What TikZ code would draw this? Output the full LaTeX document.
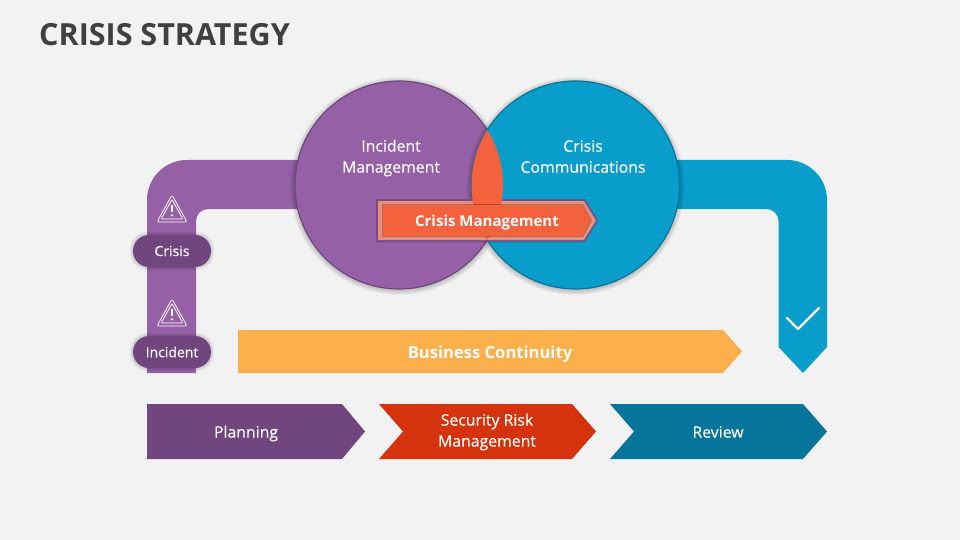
\documentclass[tikz,border=0pt]{standalone}
\usepackage{fontspec}
\setmainfont{Open Sans}
\newfontfamily\medf[FakeBold=0.25]{Open Sans}
\usetikzlibrary{shapes.misc}
\definecolor{bgc}{HTML}{F2F2F2}
\definecolor{purp}{HTML}{9560A5}
\definecolor{dpurp}{HTML}{71467F}
\definecolor{blu}{HTML}{099DCB}
\definecolor{dblu}{HTML}{07759B}
\definecolor{org}{HTML}{F4613D}
\definecolor{salm}{HTML}{E9907D}
\definecolor{ambr}{HTML}{FBB04B}
\definecolor{redd}{HTML}{D5330E}
\definecolor{titc}{HTML}{404040}
\tikzset{
  x=1pt,y=-1pt,
  lbl/.style={text=white,align=center,font=\medf\fontsize{15.8}{21}\selectfont,inner sep=0pt},
  lblb/.style={text=white,align=center,font=\bfseries,inner sep=0pt},
  pill/.style={fill=dpurp,rounded rectangle,minimum width=78pt,minimum height=32pt,inner sep=0pt,text=white,font=\medf\fontsize{14}{16}\selectfont},
  warn/.style={draw=white,line width=.8pt,line join=round,fill=none}
}
\newcommand{\softcircle}[3]{%
  \foreach \d in {5,4,3,2,1}{\fill[black,opacity=.04] (#1,#2+1) circle[radius=104+\d];}%
  \fill[#3] (#1,#2) circle[radius=104];}
\newcommand{\warnsign}[2]{%
  \begin{scope}[shift={(#1,#2)}]
   \draw[warn,rounded corners=2pt] (0,-14) -- (15,13) -- (-15,13) -- cycle;
   \draw[warn,rounded corners=1pt] (0,-9.5) -- (10.8,10) -- (-10.8,10) -- cycle;
   \draw[white,line width=1.3pt] (0,-4.5) -- (0,2.5);
   \fill[white] (0,6.3) circle[radius=1.2];
  \end{scope}}
\begin{document}
\begin{tikzpicture}
\useasboundingbox (0,0) rectangle (960,540);
\fill[bgc] (0,0) rectangle (960,540);
\node[anchor=west,inner sep=0pt,text=titc,font=\fontsize{30.5}{36}\selectfont\bfseries] (title) at (39,35) {CRISIS STRATEGY};
% bands
\fill[purp] (147,373) -- (147,200) .. controls (147,177.9) and (164.9,160) .. (187,160) -- (320,160) -- (320,209) -- (208,209) .. controls (201.4,209) and (196,214.4) .. (196,221) -- (196,373) -- cycle;
\fill[blu] (660,160) -- (787,160) .. controls (809.1,160) and (827,177.9) .. (827,200) -- (827,347) -- (803,373) -- (778.5,347) -- (778.5,221) .. controls (778.5,214.4) and (773.1,209) .. (766.5,209) -- (660,209) -- cycle;
% circles
\softcircle{399}{185}{purp}
\draw[dpurp,line width=1.2pt] (399,185) circle[radius=104];
\softcircle{575.5}{185}{blu}
\draw[dblu,line width=1.2pt] (575.5,185) circle[radius=104];
\node[lbl] (inc) at (391,158) {Incident\\Management};
\node[lbl] (com) at (583,156.5) {Crisis\\Communications};
% crisis arrow frame
\fill[dpurp,opacity=.8] (376,199) -- (585,199) -- (598,220.5) -- (585,242) -- (376,242) -- cycle;
\fill[salm] (378,201) -- (584,201) -- (596,220.5) -- (584,240) -- (378,240) -- cycle;
% lens
\begin{scope}
  \clip (399,185) circle[radius=104];
  \fill[org] (575.5,185) circle[radius=104];
\end{scope}
\fill[black,opacity=.25] (382,204) -- (583,204) -- (592,220.5) -- (583,237) -- (382,237) -- cycle;
\fill[org] (383,205) -- (582,205) -- (591,220.5) -- (582,236) -- (383,236) -- cycle;
\node[lblb,font=\fontsize{15}{18}\selectfont\bfseries] (cm) at (487,223) {Crisis Management};
% pills
\foreach \y/\t/\n in {251/Crisis/cri,352/Incident/inc2}{
  \foreach \d in {3,2,1}{\fill[black,opacity=.05,rounded corners=17pt] (133-\d,\y-16-\d) rectangle (211+\d,\y+16+\d);}
  \node[pill] (\n) at (172,\y) {\t};
}
\warnsign{172}{209}
\warnsign{172}{313}
% check
\draw[white,line width=2.2pt,line cap=round,line join=round] (787,318) -- (798,329) -- (819,308);
% continuity
\fill[ambr] (238,330) -- (723,330) -- (742,351.5) -- (723,373) -- (238,373) -- cycle;
\node[lblb,font=\fontsize{16.6}{20}\selectfont\bfseries] (bc) at (490,354) {Business Continuity};
% bottom chevrons
\fill[dpurp] (147,404) -- (342,404) -- (365,431.5) -- (342,459) -- (147,459) -- cycle;
\fill[redd] (379,404) -- (572,404) -- (596,431.5) -- (572,459) -- (379,459) -- (403,431.5) -- cycle;
\fill[dblu] (610,404) -- (803,404) -- (827,431.5) -- (803,459) -- (610,459) -- (634,431.5) -- cycle;
\node[lbl] (pl) at (246,433.5) {Planning};
\node[lbl] (sr) at (487,432) {Security Risk\\Management};
\node[lbl] (rv) at (718,432) {Review};
\end{tikzpicture}
\end{document}
